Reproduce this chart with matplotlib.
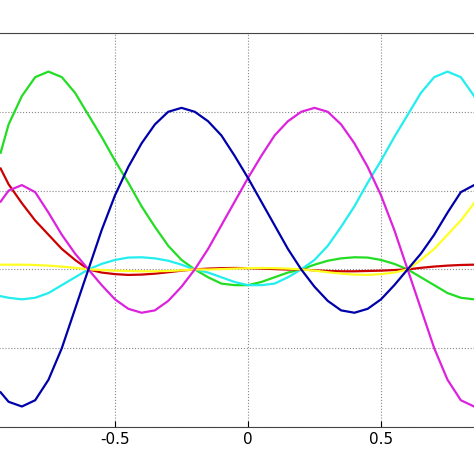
import matplotlib
matplotlib.use("Agg")
import matplotlib.pyplot as plt

x = [-0.93, -0.9, -0.85, -0.8, -0.75, -0.7, -0.65, -0.6, -0.55, -0.5, -0.45, -0.4, -0.35, -0.3,
     -0.25, -0.2, -0.15, -0.1, -0.05, 0.0, 0.05, 0.1, 0.15, 0.2, 0.25, 0.3, 0.35, 0.4, 0.45, 0.5,
     0.55, 0.6, 0.65, 0.7, 0.75, 0.8, 0.85, 0.9, 0.93]

green = [0.74, 0.92, 1.10, 1.22, 1.255, 1.22, 1.12, 0.98, 0.84, 0.69, 0.55, 0.40, 0.27, 0.15,
         0.06, 0.0, -0.05, -0.09, -0.10, -0.10, -0.08, -0.05, -0.02, 0.0, 0.03, 0.055, 0.07, 0.077,
         0.075, 0.06, 0.035, 0.0, -0.05, -0.10, -0.15, -0.18, -0.19, -0.18, -0.17]
cyan = green[::-1]

magenta = [0.43, 0.50, 0.535, 0.49, 0.36, 0.22, 0.10, 0.0, -0.10, -0.19, -0.25, -0.275, -0.26, -0.20,
           -0.11, 0.0, 0.13, 0.28, 0.43, 0.58, 0.72, 0.85, 0.94, 1.0, 1.025, 1.0, 0.92, 0.80, 0.65,
           0.47, 0.25, 0.0, -0.25, -0.50, -0.70, -0.83, -0.87, -0.84, -0.78]
blue = magenta[::-1]

red = [0.64, 0.54, 0.42, 0.31, 0.22, 0.13, 0.06, 0.0, -0.02, -0.03, -0.035, -0.033, -0.027, -0.018,
       -0.008, 0.0, 0.005, 0.008, 0.009, 0.008, 0.005, 0.002, -0.001, 0.0, -0.006, -0.01, -0.012,
       -0.012, -0.01, -0.008, -0.004, 0.0, 0.01, 0.018, 0.024, 0.028, 0.03, 0.03, 0.03]
yellow = red[::-1]

series = [(green, "#22dd22"), (cyan, "#22eeee"), (red, "#cc0000"), (yellow, "#ffff22"),
          (magenta, "#dd22dd"), (blue, "#0000aa")]

fig = plt.figure(figsize=(4.74, 4.74), dpi=100)
ax = fig.add_axes([-18/474, 47/474, 532/474, 394/474])
for vals, c in series:
    ax.plot(x, vals, color=c, lw=1.6, solid_joinstyle="round")
ax.set_xlim(-1, 1)
ax.set_ylim(-1, 1.5)
ax.set_xticks([-1, -0.5, 0, 0.5, 1])
ax.set_xticklabels(["", "-0.5", "0", "0.5", ""])
ax.set_yticks([-1, -0.5, 0, 0.5, 1, 1.5])
ax.set_yticklabels([])
ax.tick_params(direction="in", labelsize=11, length=4)
ax.grid(True, linestyle=":", color="#888888", lw=0.8)
for s in ax.spines.values():
    s.set_color("#444444")
fig.savefig("out.png", dpi=100)
